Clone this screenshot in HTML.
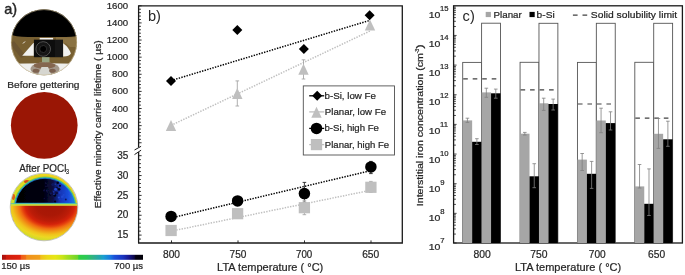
<!DOCTYPE html>
<html><head><meta charset="utf-8"><title>Figure</title>
<style>html,body{margin:0;padding:0;background:#fff;}svg{display:block;}text{stroke:#262626;stroke-width:0.22px;}</style></head>
<body><svg width="685" height="275" viewBox="0 0 685 275">
<rect width="685" height="275" fill="#fff"/>
<text x="4.2" y="14.2" font-size="14.5" fill="#262626" style="stroke:#262626;stroke-width:0.4px" font-family="Liberation Sans, sans-serif">a)</text>
<defs><clipPath id="c1"><circle cx="44.0" cy="42.3" r="33.0"/></clipPath><clipPath id="c3"><circle cx="44" cy="207" r="33.6"/></clipPath><radialGradient id="lowg" cx="0" cy="0" r="46" gradientUnits="userSpaceOnUse" gradientTransform="translate(50 205) scale(1 0.78)"><stop offset="0" stop-color="#a41606"/><stop offset="0.3" stop-color="#aa1806"/><stop offset="0.45" stop-color="#bc1c08"/><stop offset="0.54" stop-color="#d4220a"/><stop offset="0.6" stop-color="#e4400e"/><stop offset="0.66" stop-color="#f06c12"/><stop offset="0.74" stop-color="#f09a16"/><stop offset="0.82" stop-color="#f0c21c"/><stop offset="0.9" stop-color="#ecd822"/><stop offset="1" stop-color="#ccdc2c"/></radialGradient><radialGradient id="upg" cx="46" cy="206" r="35" gradientUnits="userSpaceOnUse"><stop offset="0.8" stop-color="#f0c01a"/><stop offset="0.9" stop-color="#ecd820"/><stop offset="1" stop-color="#c8e030"/></radialGradient><linearGradient id="dkg" x1="16" x2="75" y1="0" y2="0" gradientUnits="userSpaceOnUse"><stop offset="0" stop-color="#000004"/><stop offset="0.45" stop-color="#02020c"/><stop offset="0.62" stop-color="#0a0c40"/><stop offset="0.76" stop-color="#1636b8"/><stop offset="0.9" stop-color="#1a50e0"/><stop offset="1" stop-color="#2088e0"/></linearGradient><linearGradient id="cbar" x1="2" x2="142.7" y1="0" y2="0" gradientUnits="userSpaceOnUse"><stop offset="0" stop-color="#a8120e"/><stop offset="0.025" stop-color="#b8140e"/><stop offset="0.03" stop-color="#d01c0c"/><stop offset="0.13" stop-color="#e02410"/><stop offset="0.135" stop-color="#f05a16"/><stop offset="0.17" stop-color="#f07018"/><stop offset="0.175" stop-color="#f0901c"/><stop offset="0.27" stop-color="#f0a01c"/><stop offset="0.275" stop-color="#f0c01a"/><stop offset="0.32" stop-color="#ecd818"/><stop offset="0.38" stop-color="#e6e616"/><stop offset="0.43" stop-color="#c8e418"/><stop offset="0.47" stop-color="#a0de20"/><stop offset="0.54" stop-color="#6cd42c"/><stop offset="0.545" stop-color="#30d040"/><stop offset="0.6" stop-color="#2cc858"/><stop offset="0.65" stop-color="#30b088"/><stop offset="0.7" stop-color="#20a4b4"/><stop offset="0.72" stop-color="#1aa0d0"/><stop offset="0.77" stop-color="#1878e0"/><stop offset="0.8" stop-color="#1a50d8"/><stop offset="0.86" stop-color="#1a34c0"/><stop offset="0.9" stop-color="#181890"/><stop offset="0.94" stop-color="#0c0848"/><stop offset="0.95" stop-color="#050010"/><stop offset="1" stop-color="#020008"/></linearGradient><filter id="bl" x="-10%" y="-10%" width="120%" height="120%"><feGaussianBlur stdDeviation="0.5"/></filter><filter id="bl2" x="-20%" y="-20%" width="140%" height="140%"><feGaussianBlur stdDeviation="0.9"/></filter></defs>
<g clip-path="url(#c1)">
<rect x="8" y="6" width="74" height="74" fill="#786032"/>
<g filter="url(#bl)">
<polygon points="10,44 14,41 26,56 21,58" fill="#6c5530"/>
<polygon points="56,37.2 80,37.2 80,47 70,47 66,43.5 56,43.5" fill="#8a7242"/>
<path d="M8,6 H82 V34.5 Q76,37.1 60,37.1 H28 Q14,37.1 8,33.5 Z" fill="#050505"/>
<polygon points="22.2,55.8 33.4,43.1 33.9,43.1 33.9,55.8" fill="#f2f2f0"/>
<path d="M63.2,43.2 Q69,47.5 70.9,53.6 Q69.5,56.6 63.2,56.6 Z" fill="#f2f2f0"/>
<path d="M23,43.5 L25,41.5" stroke="#f0f0f0" stroke-width="1"/>
<rect x="39.7" y="37.9" width="13.4" height="1.8" fill="#f4f4f4"/>
<rect x="33.9" y="39.7" width="29.1" height="17.5" fill="#0a0a0a"/>
<rect x="55" y="40" width="8" height="17" fill="#161616"/>
<circle cx="43.2" cy="49" r="7.3" fill="#121212" stroke="#5a5a5a" stroke-width="0.9"/>
<circle cx="43.2" cy="49" r="3.6" fill="#050505" stroke="#3a3a3a" stroke-width="0.7"/>
<path d="M8,63.8 Q44,62.5 82,63.8 L82,80 L8,80 Z" fill="#efefed"/>
<rect x="42" y="57.2" width="7.5" height="5" fill="#98a684"/>
<ellipse cx="45" cy="69" rx="14.5" ry="6.8" fill="#a4988a"/>
<ellipse cx="44.5" cy="65.6" rx="11" ry="3.2" fill="#846650"/>
<polygon points="41.5,67 48,67 52,76 37.5,76" fill="#d6d6d0"/>
<ellipse cx="36" cy="70.8" rx="3.3" ry="2" fill="#7e6250"/>
<ellipse cx="52.5" cy="70.8" rx="3.3" ry="2" fill="#7e6250"/>
</g>
</g>
<circle cx="44.0" cy="42.3" r="32.7" fill="none" stroke="#cdbf9c" stroke-width="0.7" opacity="0.85"/>
<text x="7.29" y="87.80" font-size="9.8" fill="#262626" font-family="Liberation Sans, sans-serif" textLength="72.18" lengthAdjust="spacingAndGlyphs">Before gettering</text>
<circle cx="44.25" cy="125.35" r="33.35" fill="#9a1605"/>
<text x="19.15" y="171.50" font-size="10" fill="#262626" font-family="Liberation Sans, sans-serif" textLength="47.23" lengthAdjust="spacingAndGlyphs">After POCl</text>
<text x="65.89" y="173.60" font-size="6.8" fill="#262626" font-family="Liberation Sans, sans-serif" textLength="2.96" lengthAdjust="spacingAndGlyphs">3</text>
<g clip-path="url(#c3)">
<rect x="9" y="172" width="72" height="34" fill="url(#upg)"/>
<rect x="9" y="205.5" width="72" height="40" fill="url(#lowg)"/>
<g filter="url(#bl)">
<ellipse cx="27" cy="181.5" rx="3" ry="1.6" fill="#d84818"/>
<ellipse cx="13.5" cy="197" rx="1.6" ry="3" fill="#e06018"/>
<ellipse cx="12.5" cy="222" rx="1.5" ry="2.5" fill="#e06a18"/>
<ellipse cx="24" cy="238" rx="2.5" ry="1.3" fill="#e89018"/>
<path d="M13.42,204.5 A31.8,31.8 0 0 1 76.58,204.5 Z" fill="#78cc48"/>
<path d="M14.39,204.0 A30.9,30.9 0 0 1 75.61,204.0 Z" fill="#30b8b0"/>
<path d="M15.52,203.2 A29.9,29.9 0 0 1 74.48,203.2 Z" fill="url(#dkg)" stroke="#1c70d8" stroke-width="0.8"/>
<circle cx="53.1" cy="185.0" r="0.7" fill="#04041a"/><circle cx="59.0" cy="189.3" r="1.4" fill="#04041a"/><circle cx="50.0" cy="183.7" r="0.7" fill="#0a0a38"/><circle cx="46.5" cy="190.5" r="0.7" fill="#101860"/><circle cx="50.3" cy="194.5" r="1.1" fill="#04041a"/><circle cx="55.1" cy="201.5" r="1.1" fill="#04041a"/><circle cx="47.7" cy="190.4" r="0.7" fill="#101860"/><circle cx="52.6" cy="198.3" r="0.7" fill="#0a0a38"/><circle cx="60.0" cy="185.8" r="1.1" fill="#04041a"/><circle cx="45.8" cy="183.2" r="1.0" fill="#0a0a38"/><circle cx="58.9" cy="197.5" r="1.1" fill="#2048d0"/><circle cx="56.7" cy="188.0" r="1.2" fill="#0a0a38"/><circle cx="50.8" cy="193.5" r="1.0" fill="#101860"/><circle cx="53.6" cy="191.0" r="1.5" fill="#101860"/><circle cx="47.3" cy="190.4" r="0.7" fill="#0a0a38"/><circle cx="57.7" cy="182.8" r="1.3" fill="#04041a"/><circle cx="60.0" cy="199.5" r="0.9" fill="#1a3cc0"/><circle cx="53.8" cy="191.9" r="0.7" fill="#2048d0"/><circle cx="46.6" cy="187.4" r="0.7" fill="#04041a"/><circle cx="63.6" cy="194.9" r="0.9" fill="#2048d0"/><circle cx="54.8" cy="195.4" r="1.4" fill="#04041a"/><circle cx="54.0" cy="194.2" r="0.7" fill="#2048d0"/><circle cx="50.9" cy="189.8" r="0.7" fill="#0a0a38"/><circle cx="56.6" cy="193.0" r="1.3" fill="#0a0a38"/><circle cx="55.6" cy="189.2" r="1.5" fill="#2048d0"/><circle cx="48.2" cy="185.5" r="1.2" fill="#0a0a38"/><circle cx="44.3" cy="198.6" r="0.8" fill="#0a0a38"/><circle cx="44.1" cy="190.4" r="1.1" fill="#0a0a38"/><circle cx="52.9" cy="184.5" r="1.5" fill="#101860"/><circle cx="62.3" cy="196.8" r="1.4" fill="#2048d0"/><circle cx="65.8" cy="199.5" r="1.0" fill="#101860"/><circle cx="55.2" cy="184.1" r="0.7" fill="#2048d0"/><circle cx="45.9" cy="186.2" r="0.7" fill="#0a0a38"/><circle cx="59.9" cy="192.7" r="1.2" fill="#1a3cc0"/><circle cx="46.0" cy="186.2" r="0.7" fill="#0a0a38"/><circle cx="51.1" cy="188.9" r="1.0" fill="#0a0a38"/><circle cx="47.2" cy="191.8" r="1.0" fill="#0a0a38"/>
<rect x="9" y="203.2" width="72" height="1.1" fill="#58c8a8"/>
<rect x="9" y="204.3" width="72" height="1.3" fill="#c8e040"/>
</g>
</g>
<circle cx="44" cy="207" r="33.8" fill="none" stroke="#b0b0a8" stroke-width="0.7"/>
<rect x="2" y="254.8" width="141" height="5" fill="url(#cbar)"/>
<text x="1.28" y="269.40" font-size="9.4" fill="#262626" font-family="Liberation Sans, sans-serif" textLength="28.83" lengthAdjust="spacingAndGlyphs">150 µs</text>
<text x="114.33" y="269.40" font-size="9.4" fill="#262626" font-family="Liberation Sans, sans-serif" textLength="28.68" lengthAdjust="spacingAndGlyphs">700 µs</text>
<path d="M138.6,147.2 L138.6,5.8 L402.3,5.8 L402.3,243.0 L138.0,243.0 L138.6,243.0 L138.6,152" fill="none" stroke="#1a1a1a" stroke-width="1.3"/>
<path d="M134.5,150 L141.1,146.3 M134.5,154.6 L141.1,150.2" stroke="#1a1a1a" stroke-width="1"/>
<path d="M138.6,142.76h3.0 M138.6,139.34h2.3 M138.6,135.91h2.3 M138.6,132.49h2.3 M138.6,129.06h2.3 M138.6,125.64h3.0 M138.6,122.22h2.3 M138.6,118.79h2.3 M138.6,115.37h2.3 M138.6,111.94h2.3 M138.6,108.52h3.0 M138.6,105.10h2.3 M138.6,101.67h2.3 M138.6,98.25h2.3 M138.6,94.82h2.3 M138.6,91.40h3.0 M138.6,87.98h2.3 M138.6,84.55h2.3 M138.6,81.13h2.3 M138.6,77.70h2.3 M138.6,74.28h3.0 M138.6,70.86h2.3 M138.6,67.43h2.3 M138.6,64.01h2.3 M138.6,60.58h2.3 M138.6,57.16h3.0 M138.6,53.74h2.3 M138.6,50.31h2.3 M138.6,46.89h2.3 M138.6,43.46h2.3 M138.6,40.04h3.0 M138.6,36.62h2.3 M138.6,33.19h2.3 M138.6,29.77h2.3 M138.6,26.34h2.3 M138.6,22.92h3.0 M138.6,19.50h2.3 M138.6,16.07h2.3 M138.6,12.65h2.3 M138.6,9.22h2.3 M138.6,5.80h3.0 M138.6,239.07h2.3 M138.6,235.10h3.0 M138.6,231.13h2.3 M138.6,227.16h2.3 M138.6,223.19h2.3 M138.6,219.22h2.3 M138.6,215.25h3.0 M138.6,211.28h2.3 M138.6,207.31h2.3 M138.6,203.34h2.3 M138.6,199.37h2.3 M138.6,195.40h3.0 M138.6,191.43h2.3 M138.6,187.46h2.3 M138.6,183.49h2.3 M138.6,179.52h2.3 M138.6,175.55h3.0 M138.6,171.58h2.3 M138.6,167.61h2.3 M138.6,163.64h2.3 M138.6,159.67h2.3 M138.6,155.70h3.0 M171.5,243.0v-2.6 M238.0,243.0v-2.6 M304.5,243.0v-2.6 M371.0,243.0v-2.6" stroke="#1a1a1a" stroke-width="0.9"/>
<text x="128.12" y="128.70" font-size="9.6" fill="#262626" font-family="Liberation Sans, sans-serif" text-anchor="end">200</text>
<text x="128.12" y="111.58" font-size="9.6" fill="#262626" font-family="Liberation Sans, sans-serif" text-anchor="end">400</text>
<text x="128.12" y="94.46" font-size="9.6" fill="#262626" font-family="Liberation Sans, sans-serif" text-anchor="end">600</text>
<text x="128.12" y="77.34" font-size="9.6" fill="#262626" font-family="Liberation Sans, sans-serif" text-anchor="end">800</text>
<text x="128.08" y="60.22" font-size="9.6" fill="#262626" font-family="Liberation Sans, sans-serif" text-anchor="end">1000</text>
<text x="128.08" y="43.10" font-size="9.6" fill="#262626" font-family="Liberation Sans, sans-serif" text-anchor="end">1200</text>
<text x="128.08" y="25.98" font-size="9.6" fill="#262626" font-family="Liberation Sans, sans-serif" text-anchor="end">1400</text>
<text x="128.08" y="8.86" font-size="9.6" fill="#262626" font-family="Liberation Sans, sans-serif" text-anchor="end">1600</text>
<text x="128.32" y="238.25" font-size="10" fill="#262626" font-family="Liberation Sans, sans-serif" text-anchor="end">15</text>
<text x="128.32" y="218.40" font-size="10" fill="#262626" font-family="Liberation Sans, sans-serif" text-anchor="end">20</text>
<text x="128.32" y="198.55" font-size="10" fill="#262626" font-family="Liberation Sans, sans-serif" text-anchor="end">25</text>
<text x="128.32" y="178.70" font-size="10" fill="#262626" font-family="Liberation Sans, sans-serif" text-anchor="end">30</text>
<text x="128.32" y="158.85" font-size="10" fill="#262626" font-family="Liberation Sans, sans-serif" text-anchor="end">35</text>
<text x="163.04" y="257.60" font-size="10.6" fill="#262626" font-family="Liberation Sans, sans-serif" textLength="17.00" lengthAdjust="spacingAndGlyphs">800</text>
<text x="229.60" y="257.60" font-size="10.6" fill="#262626" font-family="Liberation Sans, sans-serif" textLength="16.84" lengthAdjust="spacingAndGlyphs">750</text>
<text x="296.01" y="257.60" font-size="10.6" fill="#262626" font-family="Liberation Sans, sans-serif" textLength="16.31" lengthAdjust="spacingAndGlyphs">700</text>
<text x="362.19" y="257.60" font-size="10.6" fill="#262626" font-family="Liberation Sans, sans-serif" textLength="17.06" lengthAdjust="spacingAndGlyphs">650</text>
<text x="217.12" y="270.50" font-size="11" fill="#262626" font-family="Liberation Sans, sans-serif" textLength="106.18" lengthAdjust="spacingAndGlyphs">LTA temperature ( °C)</text>
<text x="40.08" y="0.00" font-size="8.2" fill="#262626" font-family="Liberation Sans, sans-serif" textLength="168.08" lengthAdjust="spacingAndGlyphs" transform="translate(100.6,248.4) rotate(-90)">Effective minority carrier lifetime ( µs)</text>
<text x="148.0" y="20.6" font-size="14.6" fill="#262626" style="stroke:none" font-family="Liberation Sans, sans-serif">b)</text>
<path d="M171,80.6 L370,20.3" stroke="#000" stroke-width="1.5" stroke-dasharray="1.4 1.3" fill="none"/>
<path d="M171,125.4 L370,31" stroke="#bfbfbf" stroke-width="1.5" stroke-dasharray="1.4 1.3" fill="none"/>
<path d="M171,218 L371,170.6" stroke="#000" stroke-width="1.5" stroke-dasharray="1.4 1.3" fill="none"/>
<path d="M171,231.2 L371,190.2" stroke="#bfbfbf" stroke-width="1.5" stroke-dasharray="1.4 1.3" fill="none"/>
<path d="M237.3,80.9V106M235.5,80.9h3.6M235.5,106h3.6" stroke="#a6a6a6" stroke-width="0.9" fill="none"/>
<path d="M303.5,59.8V79M301.7,59.8h3.6M301.7,79h3.6" stroke="#a6a6a6" stroke-width="0.9" fill="none"/>
<path d="M304.4,182.4V202.2M302.59999999999997,182.4h3.6M302.59999999999997,202.2h3.6" stroke="#262626" stroke-width="0.9" fill="none"/>
<path d="M370.9,161.4V173.6M369.09999999999997,161.4h3.6M369.09999999999997,173.6h3.6" stroke="#262626" stroke-width="0.9" fill="none"/>
<path d="M304.4,200.3V214.7M302.59999999999997,200.3h3.6M302.59999999999997,214.7h3.6" stroke="#a6a6a6" stroke-width="0.9" fill="none"/>
<path d="M370.9,181.4V192.5M369.09999999999997,181.4h3.6M369.09999999999997,192.5h3.6" stroke="#a6a6a6" stroke-width="0.9" fill="none"/>
<polygon points="171,119.90 176.20,130.90 165.80,130.90" fill="#bfbfbf"/>
<polygon points="237.3,88.10 242.50,99.10 232.10,99.10" fill="#bfbfbf"/>
<polygon points="303.5,63.80 308.70,74.80 298.30,74.80" fill="#bfbfbf"/>
<polygon points="370,19.40 375.20,30.40 364.80,30.40" fill="#bfbfbf"/>
<polygon points="171,76.0 176.0,81 171,86.0 166.0,81" fill="#000"/>
<polygon points="237.3,25.0 242.3,30 237.3,35.0 232.3,30" fill="#000"/>
<polygon points="303.9,44.1 308.9,49.1 303.9,54.1 298.9,49.1" fill="#000"/>
<polygon points="369.6,10.3 374.6,15.3 369.6,20.3 364.6,15.3" fill="#000"/>
<rect x="165.45" y="224.90" width="11.3" height="11.2" fill="#bfbfbf"/>
<rect x="231.95" y="208.10" width="11.3" height="11.2" fill="#bfbfbf"/>
<rect x="298.75" y="202.10" width="11.3" height="11.2" fill="#bfbfbf"/>
<rect x="365.25" y="181.70" width="11.3" height="11.2" fill="#bfbfbf"/>
<circle cx="171.1" cy="216.4" r="5.75" fill="#000"/>
<circle cx="237.6" cy="200.9" r="5.75" fill="#000"/>
<circle cx="304.4" cy="193.6" r="5.75" fill="#000"/>
<circle cx="370.9" cy="166.9" r="5.75" fill="#000"/>
<rect x="303.3" y="85.9" width="91.2" height="69.1" fill="#fff" stroke="#505050" stroke-width="0.9"/>
<path d="M309.2,95.8H324.2" stroke="#000" stroke-width="1.3"/>
<polygon points="317.2,90.8 322.2,95.8 317.2,100.8 312.2,95.8" fill="#000"/>
<path d="M309.2,111.9H324.2" stroke="#bfbfbf" stroke-width="1.3"/>
<polygon points="316.5,106.80 321.70,117.80 311.30,117.80" fill="#bfbfbf"/>
<path d="M309.2,128.4H324.2" stroke="#000" stroke-width="1.3"/>
<circle cx="316.5" cy="128.4" r="5.75" fill="#000"/>
<path d="M309.2,144.6H324.2" stroke="#bfbfbf" stroke-width="1.3"/>
<rect x="310.85" y="139.00" width="11.3" height="11.2" fill="#bfbfbf"/>
<text x="324.47" y="99.20" font-size="9.4" fill="#262626" font-family="Liberation Sans, sans-serif" textLength="51.47" lengthAdjust="spacingAndGlyphs">b-Si, low Fe</text>
<text x="324.83" y="115.30" font-size="9.4" fill="#262626" font-family="Liberation Sans, sans-serif" textLength="61.22" lengthAdjust="spacingAndGlyphs">Planar, low Fe</text>
<text x="324.48" y="131.30" font-size="9.4" fill="#262626" font-family="Liberation Sans, sans-serif" textLength="54.45" lengthAdjust="spacingAndGlyphs">b-Si, high Fe</text>
<text x="324.84" y="147.60" font-size="9.4" fill="#262626" font-family="Liberation Sans, sans-serif" textLength="64.31" lengthAdjust="spacingAndGlyphs">Planar, high Fe</text>
<rect x="453.6" y="5.8" width="228.79999999999995" height="237.2" fill="none" stroke="#1a1a1a" stroke-width="1.3"/>
<path d="M453.6,243.00h3.0 M453.6,234.07h2.3 M453.6,228.85h2.3 M453.6,225.15h2.3 M453.6,222.28h2.3 M453.6,219.93h2.3 M453.6,217.94h2.3 M453.6,216.22h2.3 M453.6,214.71h2.3 M453.6,213.35h3.0 M453.6,204.42h2.3 M453.6,199.20h2.3 M453.6,195.50h2.3 M453.6,192.63h2.3 M453.6,190.28h2.3 M453.6,188.29h2.3 M453.6,186.57h2.3 M453.6,185.06h2.3 M453.6,183.70h3.0 M453.6,174.77h2.3 M453.6,169.55h2.3 M453.6,165.85h2.3 M453.6,162.98h2.3 M453.6,160.63h2.3 M453.6,158.64h2.3 M453.6,156.92h2.3 M453.6,155.41h2.3 M453.6,154.05h3.0 M453.6,145.12h2.3 M453.6,139.90h2.3 M453.6,136.20h2.3 M453.6,133.33h2.3 M453.6,130.98h2.3 M453.6,128.99h2.3 M453.6,127.27h2.3 M453.6,125.76h2.3 M453.6,124.40h3.0 M453.6,115.47h2.3 M453.6,110.25h2.3 M453.6,106.55h2.3 M453.6,103.68h2.3 M453.6,101.33h2.3 M453.6,99.34h2.3 M453.6,97.62h2.3 M453.6,96.11h2.3 M453.6,94.75h3.0 M453.6,85.82h2.3 M453.6,80.60h2.3 M453.6,76.90h2.3 M453.6,74.03h2.3 M453.6,71.68h2.3 M453.6,69.69h2.3 M453.6,67.97h2.3 M453.6,66.46h2.3 M453.6,65.10h3.0 M453.6,56.17h2.3 M453.6,50.95h2.3 M453.6,47.25h2.3 M453.6,44.38h2.3 M453.6,42.03h2.3 M453.6,40.04h2.3 M453.6,38.32h2.3 M453.6,36.81h2.3 M453.6,35.45h3.0 M453.6,26.52h2.3 M453.6,21.30h2.3 M453.6,17.60h2.3 M453.6,14.73h2.3 M453.6,12.38h2.3 M453.6,10.39h2.3 M453.6,8.67h2.3 M453.6,7.16h2.3" stroke="#1a1a1a" stroke-width="0.8"/>
<text x="428.71" y="249.83" font-size="9.8" fill="#262626" font-family="Liberation Sans, sans-serif" textLength="11.74" lengthAdjust="spacingAndGlyphs">10</text>
<text x="440.22" y="243.48" font-size="7.7" fill="#262626" font-family="Liberation Sans, sans-serif">7</text>
<text x="428.71" y="220.82" font-size="9.8" fill="#262626" font-family="Liberation Sans, sans-serif" textLength="11.74" lengthAdjust="spacingAndGlyphs">10</text>
<text x="440.25" y="214.47" font-size="7.7" fill="#262626" font-family="Liberation Sans, sans-serif">8</text>
<text x="428.71" y="191.81" font-size="9.8" fill="#262626" font-family="Liberation Sans, sans-serif" textLength="11.74" lengthAdjust="spacingAndGlyphs">10</text>
<text x="440.25" y="185.46" font-size="7.7" fill="#262626" font-family="Liberation Sans, sans-serif">9</text>
<text x="428.71" y="162.80" font-size="9.8" fill="#262626" font-family="Liberation Sans, sans-serif" textLength="11.74" lengthAdjust="spacingAndGlyphs">10</text>
<text x="440.02" y="156.45" font-size="7.7" fill="#262626" font-family="Liberation Sans, sans-serif">10</text>
<text x="428.71" y="133.79" font-size="9.8" fill="#262626" font-family="Liberation Sans, sans-serif" textLength="11.74" lengthAdjust="spacingAndGlyphs">10</text>
<text x="440.02" y="127.44" font-size="7.7" fill="#262626" font-family="Liberation Sans, sans-serif">11</text>
<text x="428.71" y="104.78" font-size="9.8" fill="#262626" font-family="Liberation Sans, sans-serif" textLength="11.74" lengthAdjust="spacingAndGlyphs">10</text>
<text x="440.02" y="98.43" font-size="7.7" fill="#262626" font-family="Liberation Sans, sans-serif">12</text>
<text x="428.71" y="75.77" font-size="9.8" fill="#262626" font-family="Liberation Sans, sans-serif" textLength="11.74" lengthAdjust="spacingAndGlyphs">10</text>
<text x="440.02" y="69.42" font-size="7.7" fill="#262626" font-family="Liberation Sans, sans-serif">13</text>
<text x="428.71" y="46.76" font-size="9.8" fill="#262626" font-family="Liberation Sans, sans-serif" textLength="11.74" lengthAdjust="spacingAndGlyphs">10</text>
<text x="440.02" y="40.41" font-size="7.7" fill="#262626" font-family="Liberation Sans, sans-serif">14</text>
<text x="428.71" y="17.75" font-size="9.8" fill="#262626" font-family="Liberation Sans, sans-serif" textLength="11.74" lengthAdjust="spacingAndGlyphs">10</text>
<text x="440.02" y="11.40" font-size="7.7" fill="#262626" font-family="Liberation Sans, sans-serif">15</text>
<rect x="462.70" y="62.40" width="18.90" height="180.60" fill="#fff" stroke="#555555" stroke-width="0.9"/>
<rect x="481.60" y="23.20" width="18.90" height="219.80" fill="#fff" stroke="#555555" stroke-width="0.9"/>
<rect x="462.70" y="120.40" width="9.45" height="122.60" fill="#a6a6a6"/>
<rect x="472.15" y="141.80" width="9.45" height="101.20" fill="#000"/>
<rect x="481.60" y="92.40" width="9.45" height="150.60" fill="#a6a6a6"/>
<rect x="491.05" y="93.30" width="9.45" height="149.70" fill="#000"/>
<path d="M463.20,78.9H500.50" stroke="#404040" stroke-width="1.2" stroke-dasharray="4.6 4.9"/>
<path d="M467.43,118.2V122.4M465.63,118.2h3.6M465.63,122.4h3.6" stroke="#7f7f7f" stroke-width="0.8" fill="none"/>
<path d="M476.88,138.7V144.5M475.08,138.7h3.6M475.08,144.5h3.6" stroke="#7f7f7f" stroke-width="0.8" fill="none"/>
<path d="M486.33,88.2V97.3M484.53,88.2h3.6M484.53,97.3h3.6" stroke="#7f7f7f" stroke-width="0.8" fill="none"/>
<path d="M495.78,89.1V98.2M493.97999999999996,89.1h3.6M493.97999999999996,98.2h3.6" stroke="#7f7f7f" stroke-width="0.8" fill="none"/>
<rect x="520.07" y="62.30" width="18.90" height="180.70" fill="#fff" stroke="#555555" stroke-width="0.9"/>
<rect x="538.97" y="23.30" width="18.90" height="219.70" fill="#fff" stroke="#555555" stroke-width="0.9"/>
<rect x="520.07" y="133.70" width="9.45" height="109.30" fill="#a6a6a6"/>
<rect x="529.52" y="176.30" width="9.45" height="66.70" fill="#000"/>
<rect x="538.97" y="103.30" width="9.45" height="139.70" fill="#a6a6a6"/>
<rect x="548.42" y="104.00" width="9.45" height="139.00" fill="#000"/>
<path d="M520.57,89.9H557.87" stroke="#404040" stroke-width="1.2" stroke-dasharray="4.6 4.9"/>
<path d="M524.8,132.4V135M523.0,132.4h3.6M523.0,135h3.6" stroke="#7f7f7f" stroke-width="0.8" fill="none"/>
<path d="M534.25,163.7V187.7M532.45,163.7h3.6M532.45,187.7h3.6" stroke="#7f7f7f" stroke-width="0.8" fill="none"/>
<path d="M543.7,98.2V110.4M541.9000000000001,98.2h3.6M541.9000000000001,110.4h3.6" stroke="#7f7f7f" stroke-width="0.8" fill="none"/>
<path d="M553.15,99.1V110M551.35,99.1h3.6M551.35,110h3.6" stroke="#7f7f7f" stroke-width="0.8" fill="none"/>
<rect x="577.44" y="62.40" width="18.90" height="180.60" fill="#fff" stroke="#555555" stroke-width="0.9"/>
<rect x="596.34" y="23.30" width="18.90" height="219.70" fill="#fff" stroke="#555555" stroke-width="0.9"/>
<rect x="577.44" y="159.60" width="9.45" height="83.40" fill="#a6a6a6"/>
<rect x="586.89" y="173.80" width="9.45" height="69.20" fill="#000"/>
<rect x="596.34" y="120.50" width="9.45" height="122.50" fill="#a6a6a6"/>
<rect x="605.79" y="123.10" width="9.45" height="119.90" fill="#000"/>
<path d="M577.94,104.0H615.24" stroke="#404040" stroke-width="1.2" stroke-dasharray="4.6 4.9"/>
<path d="M582.17,153.5V170.5M580.37,153.5h3.6M580.37,170.5h3.6" stroke="#7f7f7f" stroke-width="0.8" fill="none"/>
<path d="M591.62,161.4V188.4M589.82,161.4h3.6M589.82,188.4h3.6" stroke="#7f7f7f" stroke-width="0.8" fill="none"/>
<path d="M601.07,108.2V132.7M599.2700000000001,108.2h3.6M599.2700000000001,132.7h3.6" stroke="#7f7f7f" stroke-width="0.8" fill="none"/>
<path d="M610.52,111.8V130M608.72,111.8h3.6M608.72,130h3.6" stroke="#7f7f7f" stroke-width="0.8" fill="none"/>
<rect x="634.81" y="62.30" width="18.90" height="180.70" fill="#fff" stroke="#555555" stroke-width="0.9"/>
<rect x="653.71" y="23.30" width="18.90" height="219.70" fill="#fff" stroke="#555555" stroke-width="0.9"/>
<rect x="634.81" y="186.40" width="9.45" height="56.60" fill="#a6a6a6"/>
<rect x="644.26" y="203.80" width="9.45" height="39.20" fill="#000"/>
<rect x="653.71" y="133.80" width="9.45" height="109.20" fill="#a6a6a6"/>
<rect x="663.16" y="139.30" width="9.45" height="103.70" fill="#000"/>
<path d="M635.31,118.1H672.61" stroke="#404040" stroke-width="1.2" stroke-dasharray="4.6 4.9"/>
<path d="M639.54,164.5V188M637.74,164.5h3.6M637.74,188h3.6" stroke="#7f7f7f" stroke-width="0.8" fill="none"/>
<path d="M648.99,168.9V215.5M647.19,168.9h3.6M647.19,215.5h3.6" stroke="#7f7f7f" stroke-width="0.8" fill="none"/>
<path d="M658.44,118.5V148.4M656.6400000000001,118.5h3.6M656.6400000000001,148.4h3.6" stroke="#7f7f7f" stroke-width="0.8" fill="none"/>
<path d="M667.89,121.2V146.3M666.09,121.2h3.6M666.09,146.3h3.6" stroke="#7f7f7f" stroke-width="0.8" fill="none"/>
<text x="462.6" y="21.1" font-size="14.6" fill="#262626" style="stroke:none" font-family="Liberation Sans, sans-serif">c)</text>
<rect x="485.7" y="11.9" width="5.2" height="5.2" fill="#a6a6a6"/>
<text x="493.62" y="18.20" font-size="9.6" fill="#262626" font-family="Liberation Sans, sans-serif" textLength="28.13" lengthAdjust="spacingAndGlyphs">Planar</text>
<rect x="529.5" y="11.9" width="5.2" height="5.2" fill="#000"/>
<text x="536.64" y="18.20" font-size="9.6" fill="#262626" font-family="Liberation Sans, sans-serif" textLength="18.05" lengthAdjust="spacingAndGlyphs">b-Si</text>
<path d="M572.9,15.2H577.6M582.5,15.2H587.2" stroke="#404040" stroke-width="1.2"/>
<text x="590.84" y="18.20" font-size="9.6" fill="#262626" font-family="Liberation Sans, sans-serif" textLength="86.33" lengthAdjust="spacingAndGlyphs">Solid solubility limit</text>
<text x="473.53" y="257.60" font-size="10.6" fill="#262626" font-family="Liberation Sans, sans-serif" textLength="17.32" lengthAdjust="spacingAndGlyphs">800</text>
<text x="530.18" y="257.60" font-size="10.6" fill="#262626" font-family="Liberation Sans, sans-serif" textLength="17.27" lengthAdjust="spacingAndGlyphs">750</text>
<text x="588.79" y="257.60" font-size="10.6" fill="#262626" font-family="Liberation Sans, sans-serif" textLength="16.95" lengthAdjust="spacingAndGlyphs">700</text>
<text x="648.09" y="257.60" font-size="10.6" fill="#262626" font-family="Liberation Sans, sans-serif" textLength="17.06" lengthAdjust="spacingAndGlyphs">650</text>
<text x="515.02" y="270.50" font-size="11" fill="#262626" font-family="Liberation Sans, sans-serif" textLength="106.18" lengthAdjust="spacingAndGlyphs">LTA temperature ( °C)</text>
<g transform="translate(422.7,250) rotate(-90)"><text x="43.85" y="0.00" font-size="8.2" fill="#262626" font-family="Liberation Sans, sans-serif" textLength="153.05" lengthAdjust="spacingAndGlyphs">Interstitial iron concentration (cm</text><text x="196.56" y="-4.20" font-size="6.2" fill="#262626" font-family="Liberation Sans, sans-serif" textLength="4.78" lengthAdjust="spacingAndGlyphs">-3</text><text x="201.37" y="0.00" font-size="8.2" fill="#262626" font-family="Liberation Sans, sans-serif" textLength="4.36" lengthAdjust="spacingAndGlyphs">)</text></g>
</svg></body></html>
